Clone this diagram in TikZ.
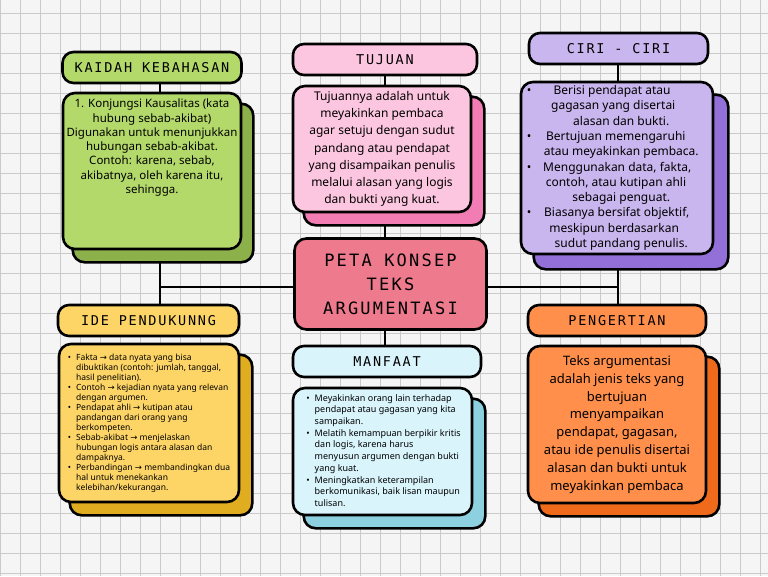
\documentclass[tikz,border=0pt]{standalone}
\usepackage{fontspec}
\usepackage{array}
\setmainfont{Noto Sans}
\newfontfamily\headfont[LetterSpace=13]{DejaVu Sans Mono}
\newfontfamily\symfont{DejaVu Sans}
\usetikzlibrary{positioning,calc,backgrounds}
\definecolor{PaperBg}{HTML}{F5F5F5}
\definecolor{PaperLine}{HTML}{CACACA}
\definecolor{KaidahFill}{HTML}{B3D96B}
\definecolor{KaidahDrop}{HTML}{8CB04A}
\definecolor{TujuanFill}{HTML}{FDC6E0}
\definecolor{TujuanDrop}{HTML}{F27DB5}
\definecolor{CiriFill}{HTML}{C9B6EE}
\definecolor{CiriDrop}{HTML}{9370D8}
\definecolor{PusatFill}{HTML}{EE7A8E}
\definecolor{IdeFill}{HTML}{FDD466}
\definecolor{IdeDrop}{HTML}{E0AC20}
\definecolor{ManfaatFill}{HTML}{D9F4FB}
\definecolor{ManfaatDrop}{HTML}{8DD0E0}
\definecolor{PengFill}{HTML}{FF8F4A}
\definecolor{PengDrop}{HTML}{F06A1C}
\newcommand\arr{{\symfont →}}
\pgfdeclarelayer{grid}
\pgfsetlayers{grid,background,main}

\begin{document}
\begin{tikzpicture}[x=1pt, y=-1pt,
    hdr/.style={draw=black, line width=2.6pt, rounded corners=11pt,
      minimum height=31pt, inner sep=0pt, font=\headfont\fontsize{13.5}{16}\selectfont},
    cardbox/.style={draw=black, line width=2.6pt, rounded corners=12pt,
      inner sep=0pt, align=center},
    dropbox/.style={draw=black, line width=2.6pt, rounded corners=12pt},
    wire/.style={line width=2.4pt, black}
  ]
  \useasboundingbox (0,0) rectangle (768,576);
  \begin{pgfonlayer}{grid}
    \fill[PaperBg] (0,0) rectangle (768,576);
    \foreach \gx in {0,20,...,760}
      \draw[PaperLine, line width=0.6pt] (\gx,0) -- (\gx,576);
    \foreach \gy in {13,33,...,573}
      \draw[PaperLine, line width=0.6pt] (0,\gy) -- (768,\gy);
  \end{pgfonlayer}

  % judul tengah
  \node[cardbox, fill=PusatFill, minimum width=192, minimum height=91,
    font=\headfont\fontsize{17}{24}\selectfont] (pusat) at (390.5,284)
    {PETA KONSEP\\TEKS\\ARGUMENTASI};

  % kolom kiri
  \node[hdr, fill=KaidahFill, minimum width=179] (kaidah) at (152,67.5) {KAIDAH KEBAHASAN};
  \node[cardbox, fill=KaidahFill, minimum width=178, minimum height=156] (kaidahIsi) at (152,171)
    {\parbox[c][150pt][t]{176pt}{\centering\fontsize{11.5}{14.3}\selectfont\vspace*{3pt}
      1. Konjungsi Kausalitas (kata\\ hubung sebab-akibat)\\ Digunakan untuk menunjukkan\\
      hubungan sebab-akibat.\\ Contoh: karena, sebab,\\ akibatnya, oleh karena itu,\\ sehingga.}};
  \node[hdr, fill=IdeFill, minimum width=181] (ide) at (148.5,320.5) {IDE PENDUKUNNG};
  \node[cardbox, fill=IdeFill, minimum width=180, minimum height=158] (ideIsi) at (149,423)
    {\fontsize{8.5}{10}\selectfont
     \begin{tabular}{@{\hspace{6pt}}l@{\hspace{5pt}}>{\raggedright\arraybackslash}p{160pt}@{}}
      \textbullet & Fakta \arr{} data nyata yang bisa\newline dibuktikan (contoh: jumlah, tanggal,\newline hasil penelitian).\\
      \textbullet & Contoh \arr{} kejadian nyata yang relevan\newline dengan argumen.\\
      \textbullet & Pendapat ahli \arr{} kutipan atau\newline pandangan dari orang yang\newline berkompeten.\\
      \textbullet & Sebab-akibat \arr{} menjelaskan\newline hubungan logis antara alasan dan\newline dampaknya.\\
      \textbullet & Perbandingan \arr{} membandingkan dua\newline hal untuk menekankan\newline kelebihan/kekurangan.
     \end{tabular}};

  % kolom tengah
  \node[hdr, fill=TujuanFill, minimum width=184] (tujuan) at (385,59.5) {TUJUAN};
  \node[cardbox, fill=TujuanFill, minimum width=178, minimum height=126,
    font=\fontsize{12}{17.2}\selectfont] (tujuanIsi) at (382,149)
    {Tujuannya adalah untuk\\ meyakinkan pembaca\\ agar setuju dengan sudut\\ pandang atau pendapat\\
     yang disampaikan penulis\\ melalui alasan yang logis\\ dan bukti yang kuat.};
  \node[hdr, fill=ManfaatFill, minimum width=188] (manfaat) at (387,361.5) {MANFAAT};
  \node[cardbox, fill=ManfaatFill, minimum width=179, minimum height=127] (manfaatIsi) at (382.5,451.5)
    {\fontsize{9}{11.7}\selectfont
     \begin{tabular}{@{\hspace{8pt}}l@{\hspace{5pt}}>{\raggedright\arraybackslash}p{152pt}@{}}
      \textbullet & Meyakinkan orang lain terhadap\newline pendapat atau gagasan yang kita\newline sampaikan.\\
      \textbullet & Melatih kemampuan berpikir kritis\newline dan logis, karena harus\newline menyusun argumen dengan bukti\newline yang kuat.\\
      \textbullet & Meningkatkan keterampilan\newline berkomunikasi, baik lisan maupun\newline tulisan.
     \end{tabular}};

  % kolom kanan
  \node[hdr, fill=CiriFill, minimum width=179] (ciri) at (618.5,48.5) {CIRI - CIRI};
  \node[cardbox, fill=CiriFill, minimum width=192, minimum height=172] (ciriIsi) at (617,168)
    {\fontsize{12}{15.3}\selectfont
     \begin{tabular}{@{}l@{\hspace{4pt}}>{\centering\arraybackslash}p{172pt}@{}}
      \textbullet & Berisi pendapat atau\newline gagasan yang disertai\newline alasan dan bukti.\\
      \textbullet & Bertujuan memengaruhi\newline atau meyakinkan pembaca.\\
      \textbullet & Menggunakan data, fakta,\newline contoh, atau kutipan ahli\newline sebagai penguat.\\
      \textbullet & Biasanya bersifat objektif,\newline meskipun berdasarkan\newline sudut pandang penulis.
     \end{tabular}};
  \node[hdr, fill=PengFill, minimum width=178] (peng) at (617,320.5) {PENGERTIAN};
  \node[cardbox, fill=PengFill, minimum width=178, minimum height=157,
    font=\fontsize{13}{17.9}\selectfont] (pengIsi) at (617,424.5)
    {Teks argumentasi\\ adalah jenis teks yang\\ bertujuan\\ menyampaikan\\ pendapat, gagasan,\\
     atau ide penulis disertai\\ alasan dan bukti untuk\\ meyakinkan pembaca};

  \coordinate (jl) at (160,287);
  \coordinate (jm) at (385,287);
  \coordinate (jr) at (618,287);

  \begin{pgfonlayer}{background}
    \draw[wire] (jl |- kaidah.south) -- (jl |- ide.north);
    \draw[wire] (jl) -- (jl -| pusat.west);
    \draw[wire] (jr -| pusat.east) -- (jr);
    \draw[wire] (jr |- ciri.south) -- (jr |- peng.north);
    \draw[wire] (jm |- tujuan.south) -- (jm |- manfaat.north);
    % bayangan kartu
    \draw[dropbox, fill=KaidahDrop] ($(kaidahIsi.north west)+(11,12)$) rectangle ($(kaidahIsi.south east)+(11,12)$);
    \draw[dropbox, fill=IdeDrop] ($(ideIsi.north west)+(12,12)$) rectangle ($(ideIsi.south east)+(12,12)$);
    \draw[dropbox, fill=TujuanDrop] ($(tujuanIsi.north west)+(12,12)$) rectangle ($(tujuanIsi.south east)+(12,12)$);
    \draw[dropbox, fill=ManfaatDrop] ($(manfaatIsi.north west)+(12,12)$) rectangle ($(manfaatIsi.south east)+(12,12)$);
    \draw[dropbox, fill=CiriDrop] ($(ciriIsi.north west)+(14,14)$) rectangle ($(ciriIsi.south east)+(14,14)$);
    \draw[dropbox, fill=PengDrop] ($(pengIsi.north west)+(12,12)$) rectangle ($(pengIsi.south east)+(12,12)$);
  \end{pgfonlayer}
\end{tikzpicture}
\end{document}
